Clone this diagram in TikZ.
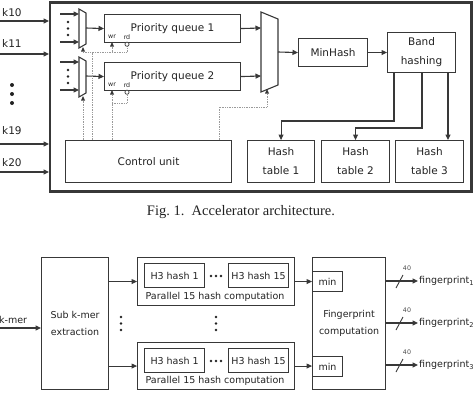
\documentclass[tikz,border=0pt]{standalone}
\usepackage{fontspec}
\setmainfont{DejaVu Sans}
\newfontfamily\capfont{Liberation Serif}
\usetikzlibrary{arrows.meta}
\definecolor{ln}{HTML}{383838}
\definecolor{tx}{HTML}{222222}
\definecolor{dt}{HTML}{9A9A9A}
\begin{document}
\begin{tikzpicture}[x=1pt,y=-1pt,
  box/.style={draw=ln, line width=1.1pt, inner sep=0pt, align=center, text=tx,
    font=\fontsize{10.5}{19}\selectfont, anchor=north west},
  bbox/.style={box, font=\fontsize{9.5}{16.5}\selectfont},
  arr/.style={-{Triangle[length=5.5pt,width=5pt]}, draw=ln, line width=1.1pt},
  ctl/.style={draw=dt, densely dotted, line width=0.7pt},
  carr/.style={ctl, -{Triangle[length=4.5pt,width=4pt,color=ln,fill=ln,line width=0pt]}},
  lbl/.style={text=tx, font=\fontsize{10.5}{12}\selectfont, inner sep=0pt},
  blbl/.style={text=tx, font=\fontsize{9.5}{12}\selectfont, inner sep=0pt},
  tiny/.style={text=tx, font=\fontsize{6.3}{7}\selectfont, inner sep=0pt},
  dotc/.style={fill=tx, draw=none},
]
\useasboundingbox (0,0) rectangle (474,415);
% ---------------- Figure 1 ----------------
\draw[draw=ln, line width=2.2pt] (50,2.5) rectangle (471.5,191.5);
\coordinate (outerL1) at (49,21);
\coordinate (outerL2) at (49,54);
\coordinate (outerL3) at (49,144);
\coordinate (outerL4) at (49,172);
\coordinate (kin1) at (0,21);
\coordinate (kin2) at (0,54);
\coordinate (kin3) at (0,144);
\coordinate (kin4) at (0,172);
\draw[arr] (kin1) -- (outerL1);
\draw[arr] (kin2) -- (outerL2);
\draw[arr] (kin3) -- (outerL3);
\draw[arr] (kin4) -- (outerL4);
\node[lbl, anchor=west] (k10) at (2,13) {k10};
\node[lbl, anchor=west] (k11) at (2,44) {k11};
\node[lbl, anchor=west] (k19) at (2,131) {k19};
\node[lbl, anchor=west] (k20) at (2,163) {k20};
\foreach \yy in {85,94,103} \fill[dotc] (12,\yy) circle (2pt);

% muxes
\draw[draw=ln, line width=1.1pt] (79,9) -- (86,13) -- (86,44) -- (79,48) -- cycle;
\draw[draw=ln, line width=1.1pt] (79,57) -- (86,61) -- (86,93) -- (79,97) -- cycle;
\draw[draw=ln, line width=1.1pt] (261,12) -- (278,19) -- (278,85) -- (261,92) -- cycle;
\coordinate (m1a) at (79,14); \coordinate (m1b) at (79,42);
\coordinate (m2a) at (79,62); \coordinate (m2b) at (79,90);
\coordinate (i1a) at (60,14); \coordinate (i1b) at (60,42);
\coordinate (i2a) at (60,62); \coordinate (i2b) at (60,90);
\draw[arr] (i1a) -- (m1a); \draw[arr] (i1b) -- (m1b);
\draw[arr] (i2a) -- (m2a); \draw[arr] (i2b) -- (m2b);
\foreach \yy in {22,28.5,35,70,76.5,83} \fill[dotc] (68,\yy) circle (1.4pt);
\coordinate (m1o) at (86,28); \coordinate (m2o) at (86,76);
\coordinate (m1s) at (83,47); \coordinate (m2s) at (83,96);
\coordinate (mo1) at (261,28); \coordinate (mo2) at (261,76);
\coordinate (moo) at (278,52); \coordinate (mos) at (267,89);

\node[box, minimum width=136pt, minimum height=28pt] (pq1) at (104,14) {Priority queue 1};
\node[box, minimum width=136pt, minimum height=28pt] (pq2) at (104,62) {Priority queue 2};
\draw[arr] (m1o) -- (pq1.west);
\draw[arr] (m2o) -- (pq2.west);
\draw[arr] (pq1.east) -- (mo1);
\draw[arr] (pq2.east) -- (mo2);
\node[tiny] (wr1) at (112,37) {wr};
\node[tiny] (rd1) at (127,37) {rd};
\node[tiny] (wr2) at (112,85) {wr};
\node[tiny] (rd2) at (127,85) {rd};

\node[box, minimum width=69pt, minimum height=28pt] (mh) at (298,38) {MinHash};
\draw[arr] (moo) -- (mh.west);
\node[box, minimum width=68pt, minimum height=40pt] (bh) at (387,32) {Band\\hashing};
\draw[arr] (mh.east) -- (bh.west);

\node[box, minimum width=67pt, minimum height=42pt] (ht1) at (247,140) {Hash\\table 1};
\node[box, minimum width=68pt, minimum height=42pt] (ht2) at (321,140) {Hash\\table 2};
\node[box, minimum width=68pt, minimum height=42pt] (ht3) at (395,140) {Hash\\table 3};
\draw[arr] (bh.south -| 394,0) -- (394,121) -- (ht1.north |- 0,121) -- (ht1.north);
\draw[arr] (bh.south -| 422,0) -- (422,128) -- (ht2.north |- 0,128) -- (ht2.north);
\draw[arr] (bh.south -| 448,0) -- (ht3.north -| 448,0);

\node[box, minimum width=166pt, minimum height=42pt] (cu) at (65,140) {Control unit};

% control (dotted) lines
\draw[ctl] (cu.north -| 92,0) -- (92,52);
\draw[ctl] (83,52) -- (127,52);
\draw[carr] (83,52) -- (m1s);
\draw[carr] (112,52) -- (112,42);
\draw[ctl] (127,52) -- (127,46.3);
\draw[draw=ln, line width=0.7pt, fill=white] (127,44.2) circle (2.1pt);
\draw[carr] (cu.north -| 83,0) -- (m2s);
\draw[carr] (cu.north -| 112,0) -- (112,90);
\draw[ctl] (112,103) -- (127,103) -- (127,94.3);
\draw[draw=ln, line width=0.7pt, fill=white] (127,92.2) circle (2.1pt);
\draw[carr] (cu.north -| 219,0) -- (219,107) -- (267,107) -- (mos);

\node[text=tx, font=\capfont\fontsize{14.5}{16}\selectfont, inner sep=0pt] (cap1) at (241,212) {Fig.~1.\ \ Accelerator architecture.};

% ---------------- Figure 2 ----------------
\node[bbox, minimum width=67pt, minimum height=132pt] (sk) at (41,257) {Sub k-mer\\extraction};
\coordinate (kmin) at (0,328);
\draw[arr] (kmin) -- (sk.west |- kmin);
\node[blbl, anchor=west] (kmer) at (-1,320) {k-mer};

\node[bbox, minimum width=157pt, minimum height=48pt] (p1) at (137,257) {};
\node[bbox, minimum width=60pt, minimum height=24pt] (h1a) at (144,263) {H3 hash 1};
\node[bbox, minimum width=60pt, minimum height=24pt] (h1b) at (228,263) {H3 hash 15};
\node[blbl] (p1t) at (215,297) {Parallel 15 hash computation};
\foreach \xx in {211,216,221} \fill[dotc] (\xx,276) circle (1.3pt);

\node[bbox, minimum width=157pt, minimum height=47pt] (p2) at (137,342) {};
\node[bbox, minimum width=60pt, minimum height=24pt] (h2a) at (144,348) {H3 hash 1};
\node[bbox, minimum width=60pt, minimum height=24pt] (h2b) at (228,348) {H3 hash 15};
\node[blbl] (p2t) at (215,381) {Parallel 15 hash computation};
\foreach \xx in {211,216,221} \fill[dotc] (\xx,361) circle (1.3pt);

\foreach \yy in {317,323.5,330} {\fill[dotc] (121,\yy) circle (1.3pt); \fill[dotc] (216,\yy) circle (1.3pt);}

\draw[arr] (sk.east |- p1.west) -- (p1.west);
\draw[arr] (sk.east |- p2.west) -- (p2.west);

\node[bbox, minimum width=73pt, minimum height=132pt] (fc) at (312,257) {Fingerprint\\computation};
\node[bbox, minimum width=30pt, minimum height=20pt] (mn1) at (312,271) {min};
\node[bbox, minimum width=30pt, minimum height=20pt] (mn2) at (312,356) {min};
\draw[arr] (p1.east) -- (mn1.west |- p1.east);
\draw[arr] (p2.east) -- (mn2.west |- p2.east);

\foreach \yy/\i in {281/1,323/2,365/3} {
  \coordinate (fo\i) at (418,\yy);
  \draw[arr] (fc.east |- fo\i) -- (fo\i);
  \draw[draw=ln, line width=0.9pt] (396,\yy+7) -- (403,\yy-6);
  \node[tiny, text=tx!80] (w\i) at (407,\yy-13) {40};
  \node[blbl, anchor=west] (fp\i) at (419,\yy) {fingerprint\textsubscript{\i}};
}
\end{tikzpicture}
\end{document}
